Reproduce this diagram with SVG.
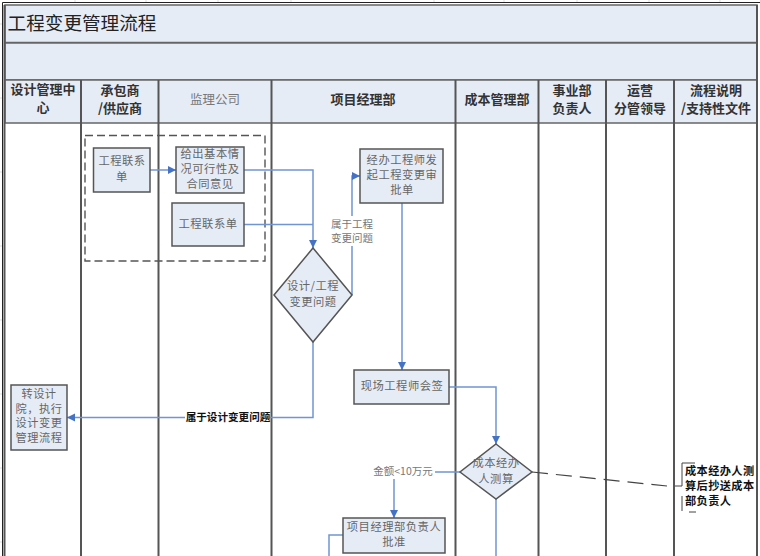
<svg xmlns="http://www.w3.org/2000/svg" width="760" height="556" viewBox="0 0 760 556">
<defs>
<marker id="ah" markerUnits="userSpaceOnUse" markerWidth="9" markerHeight="9" refX="8" refY="4" orient="auto"><path d="M0 0L8 4L0 8Z" fill="#4472c4"/></marker>
</defs>
<style>
text{font-family:"Noto Sans CJK SC","Liberation Sans",sans-serif;text-anchor:middle}
.band{fill:#e6ecf6;stroke:#666;stroke-width:1.5}
.sw{stroke:#555;stroke-width:2;fill:none}
.box{fill:#e6ecf6;stroke:#555;stroke-width:1.5}
.t{font-size:11.300px;letter-spacing:.5px;fill:#666}
.h{font-size:13px;font-weight:700;fill:#333}
.c{fill:none;stroke:#6f95d2;stroke-width:1.5}
.lb{font-size:10.5px;fill:#777}
.b{font-size:11.2px;letter-spacing:.4px;font-weight:700;fill:#111;text-anchor:start}
</style>
<rect width="760" height="556" fill="#fff"/>
<path d="M75 0V2M146 0V2M218 0V2M291 0V2M434 0V2M504 0V2M577 0V2M649 0V2M720 0V2M0 24H2M0 98H2M0 172H2M0 246H2M0 320H2M0 394H2M0 468H2M0 542H2" stroke="#ddd" stroke-width="1" fill="none"/>
<path d="M2.500 556V2.500H760" fill="none" stroke="#222" stroke-width="1"/>
<g id="header">
<rect class="band" x="5" y="5" width="752" height="37.500"/>
<rect class="band" x="5" y="43" width="752" height="37"/>
<rect class="band" x="5" y="80" width="752" height="43"/>
<text x="82" y="30" style="font-size:18.600px;fill:#222">工程变更管理流程</text>
<text class="h" x="43" y="94">设计管理中</text><text class="h" x="43" y="112">心</text>
<text class="h" x="120" y="95">承包商</text><text class="h" x="120" y="113">/供应商</text>
<text x="215" y="104" style="font-size:12.500px;fill:#777">监理公司</text>
<text class="h" x="363" y="104">项目经理部</text>
<text class="h" x="497" y="104">成本管理部</text>
<text class="h" x="572" y="95">事业部</text><text class="h" x="572" y="113">负责人</text>
<text class="h" x="640" y="95">运营</text><text class="h" x="640" y="113">分管领导</text>
<text class="h" x="716" y="95">流程说明</text><text class="h" x="716" y="113">/支持性文件</text>
</g>
<g id="swimlanes">
<path class="sw" d="M4.500 5V556M81 80V556M158.500 80V556M271.500 80V556M455.500 80V556M538.500 80V556M606 80V556M674 80V556M757 5V556"/>
</g>
<g id="group-frame"><rect x="85" y="135.500" width="180" height="125.500" fill="none" stroke="#555" stroke-width="1.400" stroke-dasharray="8 4"/></g>
<g id="connectors">
<path class="c" d="M150 170H176" marker-end="url(#ah)"/>
<path class="c" d="M244 170H313V248" marker-end="url(#ah)"/>
<path class="c" d="M244 224.500H313"/>
<path class="c" d="M352 295V176H360" marker-end="url(#ah)"/>
<path class="c" d="M402 203V370" marker-end="url(#ah)"/>
<path class="c" d="M449 387H496V444" marker-end="url(#ah)"/>
<path class="c" d="M313 342V417.500H67" marker-end="url(#ah)"/>
<path class="c" d="M460 472H434"/>
<path class="c" d="M394 479V518" marker-end="url(#ah)"/>
<path class="c" d="M496 499V556"/>
<path class="c" d="M343 535H329V556"/>
<path d="M532 472L667 486" fill="none" stroke="#444" stroke-width="1.200" stroke-dasharray="16 8"/>
<rect x="330" y="216" width="46" height="30" fill="#fff"/>
<text class="lb" x="352" y="228">属于工程</text><text class="lb" x="352" y="242">变更问题</text>
<rect x="185" y="410" width="85" height="15" fill="#fff"/>
<text x="228" y="421" style="font-size:10.600px;font-weight:700;fill:#111">属于设计变更问题</text>
<rect x="368" y="465" width="67" height="14" fill="#fff"/>
<text class="lb" x="403" y="475">金额&lt;10万元</text>
</g>
<g id="n1"><rect class="box" x="93.500" y="148" width="56.500" height="44"/><text class="t" x="122" y="165">工程联系</text><text class="t" x="122" y="181">单</text></g>
<g id="n2"><rect class="box" x="176" y="147" width="68" height="46"/><text class="t" x="210" y="158">给出基本情</text><text class="t" x="210" y="173">况可行性及</text><text class="t" x="210" y="188">合同意见</text></g>
<g id="n3"><rect class="box" x="172" y="203" width="72" height="43"/><text class="t" x="208" y="228">工程联系单</text></g>
<g id="n4"><rect class="box" x="360" y="149" width="83" height="54"/><text class="t" x="402" y="164">经办工程师发</text><text class="t" x="402" y="179">起工程变更审</text><text class="t" x="402" y="194">批单</text></g>
<g id="n5"><polygon class="box" points="313,248 352,295 313,342 274,295"/><text class="t" x="313" y="290">设计/工程</text><text class="t" x="313" y="306">变更问题</text></g>
<g id="n6"><rect class="box" x="354" y="370" width="95" height="34"/><text class="t" x="402" y="390">现场工程师会签</text></g>
<g id="n7"><rect class="box" x="11" y="385" width="56" height="65"/><g style="font-size:11.200px;fill:#666;letter-spacing:.5px"><text x="39" y="398">转设计</text><text x="39" y="412.700">院，执行</text><text x="39" y="427.400">设计变更</text><text x="39" y="442.100">管理流程</text></g></g>
<g id="n8"><polygon class="box" points="496,444 532,472 496,499 460,472"/><text class="t" x="496" y="467">成本经办</text><text class="t" x="496" y="483">人测算</text></g>
<g id="n9"><rect class="box" x="343" y="518" width="102" height="35"/><text class="t" x="394" y="531">项目经理部负责人</text><text class="t" x="394" y="546">批准</text></g>
<g id="note"><path d="M675 486H682M682 486V463H695M682 496V511M689 512H696" fill="none" stroke="#444" stroke-width="1"/><text class="b" x="685" y="474.500">成本经办人测</text><text class="b" x="685" y="489.500">算后抄送成本</text><text class="b" x="685" y="504.500">部负责人</text></g>
</svg>
